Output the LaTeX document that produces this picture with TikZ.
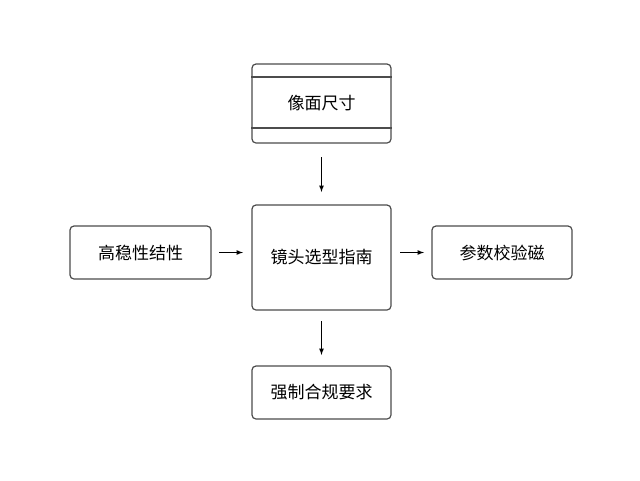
\documentclass[tikz,border=0pt]{standalone}
\usepackage{fontspec}
\setmainfont{Noto Sans CJK SC}
\usetikzlibrary{positioning}
\begin{document}
\begin{tikzpicture}[x=1pt, y=-1pt,
    box/.style={draw=black!70, rounded corners=4pt, line width=1.2pt, font=\fontsize{17}{20}\selectfont},
    arr/.style={draw, -latex, line width=1.2pt}]
    \useasboundingbox (0,0) rectangle (640,480);
    % Boxes
    \node[box, minimum width=139pt, minimum height=79pt] (size) at (321.5,103.5) {像面尺寸};
    \draw[black!70, line width=1.2pt] (size.west |- 0,77) -- (size.east |- 0,77);
    \draw[black!70, line width=1.2pt] (size.west |- 0,128) -- (size.east |- 0,128);
    \node[box, minimum width=139pt, minimum height=105pt] (guide) at (321.5,257.5) {镜头选型指南};
    \node[box, minimum width=141pt, minimum height=53pt] (stable) at (140.5,252.5) {高稳性结性};
    \node[box, minimum width=140pt, minimum height=53pt] (check) at (502,252.5) {参数校验磁};
    \node[box, minimum width=139pt, minimum height=53pt] (rules) at (321.5,392.5) {强制合规要求};
    % Arrows
    \draw[arr] (321.5,157) -- (321.5,192);
    \draw[arr] (219,252.5) -- (243,252.5);
    \draw[arr] (400,252.5) -- (424,252.5);
    \draw[arr] (321.5,321) -- (321.5,355);
\end{tikzpicture}
\end{document}
